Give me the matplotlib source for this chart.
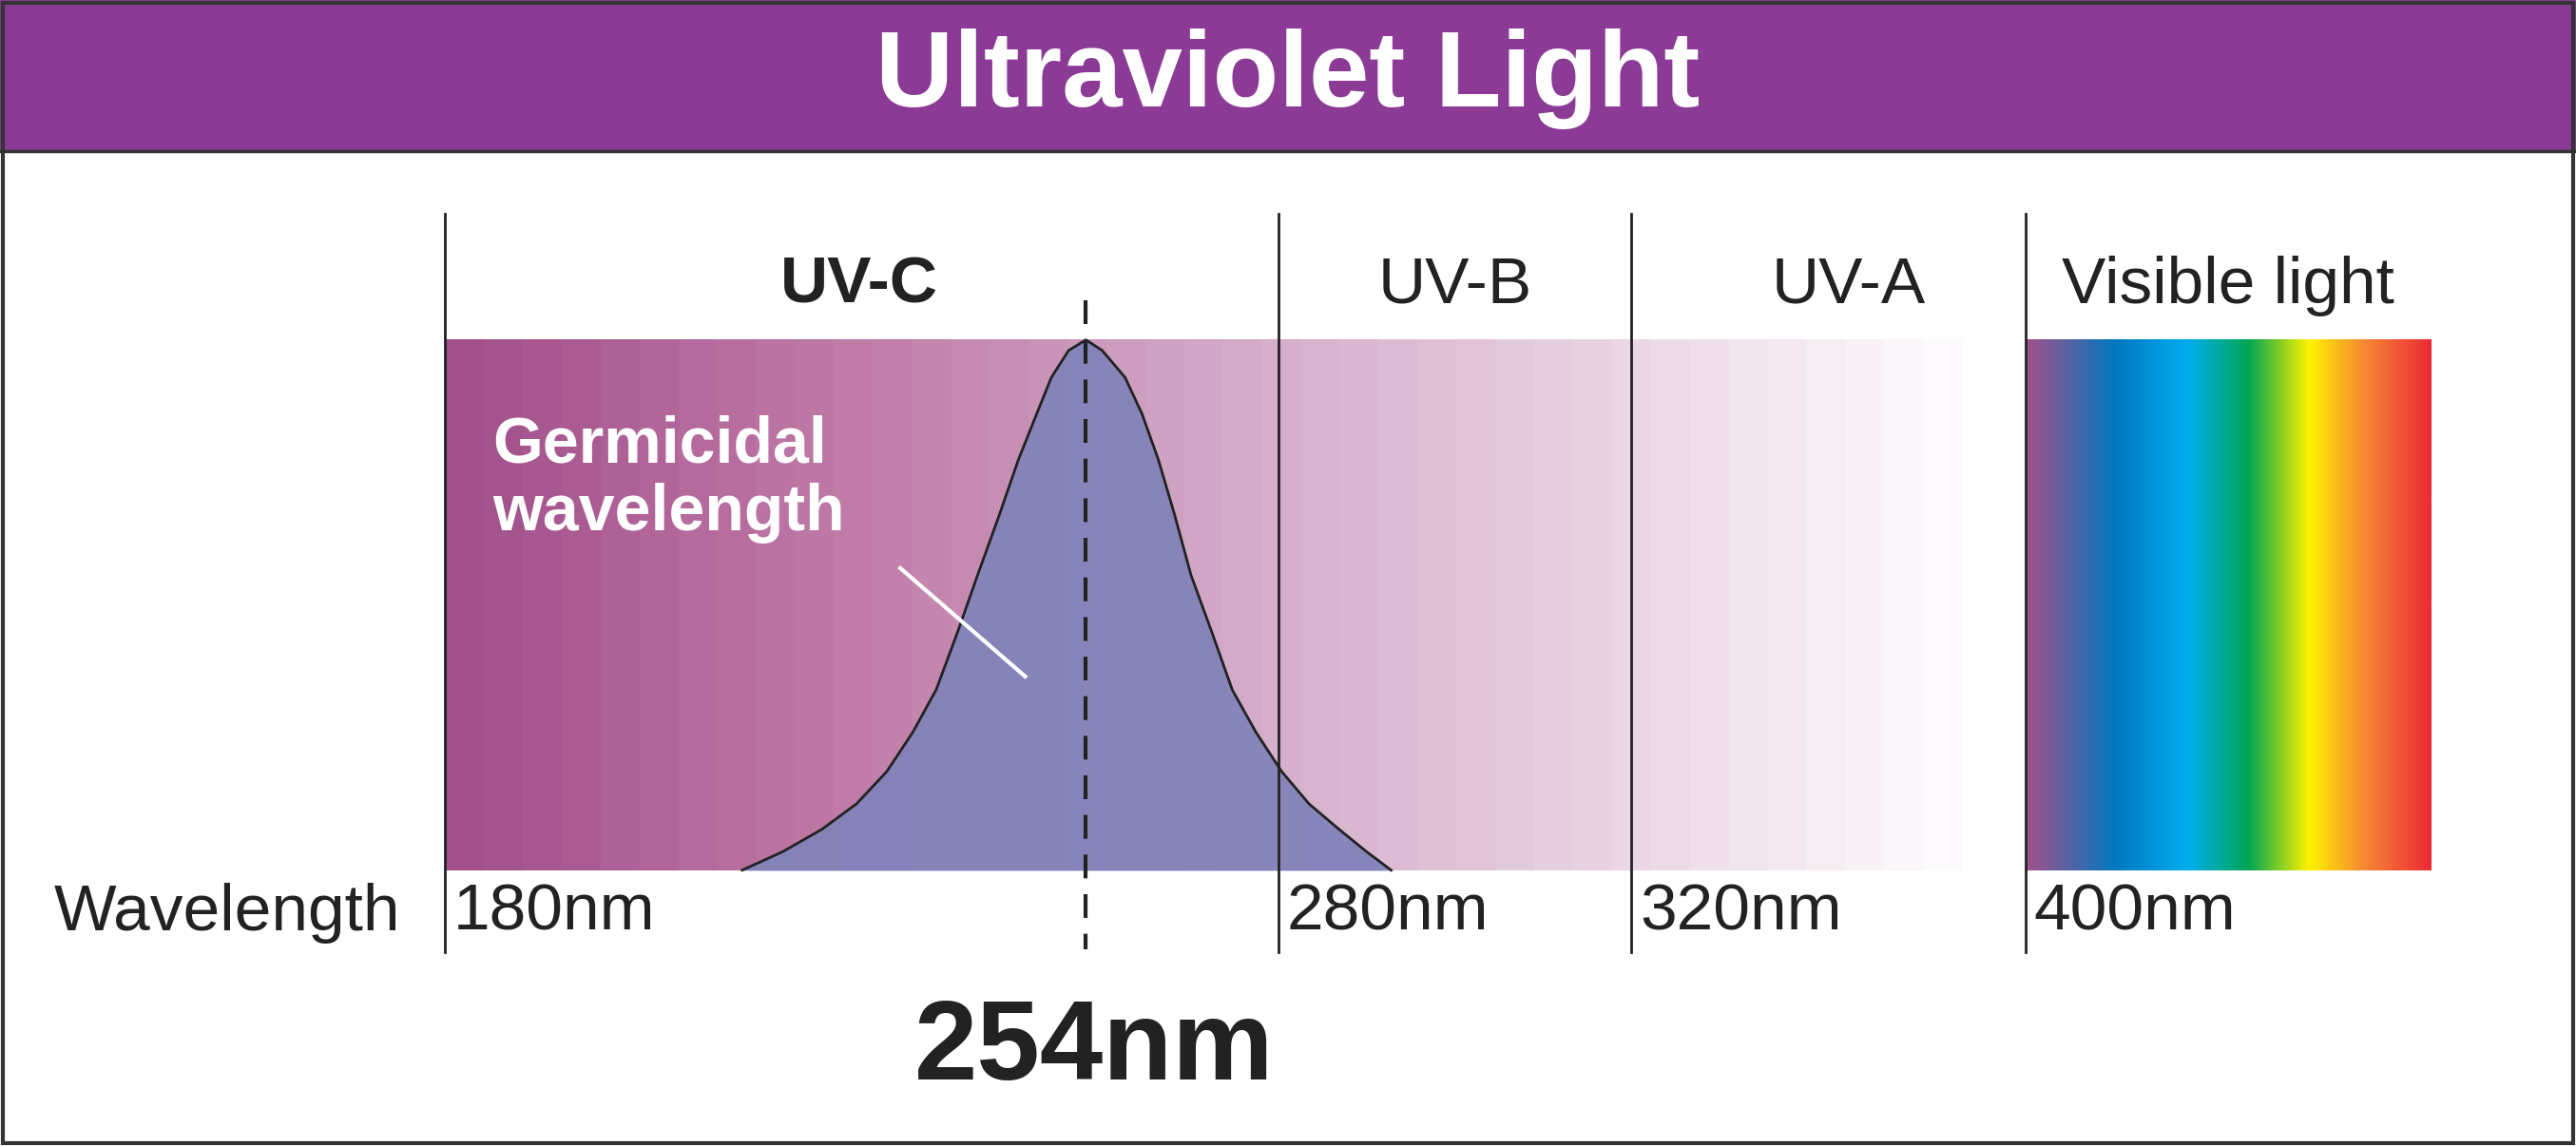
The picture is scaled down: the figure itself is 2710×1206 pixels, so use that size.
import numpy as np
import matplotlib
matplotlib.use("Agg")
import matplotlib.pyplot as plt
from matplotlib.colors import LinearSegmentedColormap

plt.rcParams['font.family'] = ['Liberation Sans', 'DejaVu Sans']

# data
boundaries_nm = [180, 280, 320, 400]
band_names = ["UV-C", "UV-B", "UV-A", "Visible light"]
peak_nm = 254
curve_nm = [214.3, 219, 223.5, 227.5, 231, 234, 236.7, 239.2, 241.5, 244, 246.2, 248.3, 250, 252, 254,
            256.2, 259.3, 261.6, 263.8, 266, 268.2, 271, 273.8, 277, 280.4, 283.5, 286.9, 290, 292.8]
curve_rel = [0.0, 0.035, 0.077, 0.125, 0.186, 0.26, 0.34, 0.45, 0.557, 0.67, 0.774, 0.86, 0.929, 0.98, 1.0,
             0.98, 0.929, 0.86, 0.774, 0.67, 0.557, 0.45, 0.34, 0.26, 0.186, 0.125, 0.077, 0.035, 0.0]
spectrum_colors = ["#A2508A", "#0078C0", "#00AEEF", "#00A651", "#FFF200", "#F58634", "#EC2A35"]
spectrum_stops = [0.0, 0.22, 0.40, 0.55, 0.70, 0.84, 1.0]

# horizontal scale (nm -> drawing units), piecewise linear like the figure
scale_nm = [180, 254, 280, 320, 400]
scale_x = [271, 661, 778, 993, 1233]
def X(nm):
    return np.interp(nm, scale_nm, scale_x)

W, H = 1568, 698
fig = plt.figure(figsize=(27.10, 12.06), dpi=100)
ax = fig.add_axes([0, 0, 1, 1])
ax.set_xlim(0, W)
ax.set_ylim(H, 0)
ax.axis("off")

# frame and title bar
ax.add_patch(plt.Rectangle((0, 0), W, 92, color="#8B3A96", zorder=1))
ax.add_patch(plt.Rectangle((1.5, 1.5), W - 3, H - 3, fill=False, ec="#333333", lw=3, zorder=5))
ax.plot([0, W], [92, 92], color="#333333", lw=2.5, zorder=5)
ax.text(W / 2, 48, "Ultraviolet Light", color="white", fontsize=82, fontweight="bold",
        ha="center", va="center", zorder=6)

band_top, band_bot = 207, 530
# UV gradient band
uv_cmap = LinearSegmentedColormap.from_list("uv", ["#A2508A", "#C07BA8", "#D2A9C8", "#E9D3E3", "#FFFFFF"])
grad = np.linspace(0, 1, 40).reshape(1, -1)
ax.imshow(grad, cmap=uv_cmap, extent=(X(180), 1218, band_bot, band_top), aspect="auto",
          interpolation="nearest", zorder=2)

# visible spectrum
vis_cmap = LinearSegmentedColormap.from_list("vis", list(zip(spectrum_stops, spectrum_colors)))
grad2 = np.linspace(0, 1, 400).reshape(1, -1)
ax.imshow(grad2, cmap=vis_cmap, extent=(X(400), 1480, band_bot, band_top), aspect="auto",
          interpolation="bilinear", zorder=2)

# germicidal curve
cx = X(np.array(curve_nm))
cy = band_bot - np.array(curve_rel) * (band_bot - band_top)
ax.fill(cx, cy, color="#8383BA", alpha=0.95, zorder=3)
ax.plot(cx, cy, color="#222222", lw=2, zorder=4)

# peak dashed line
ax.plot([X(peak_nm)] * 2, [183, 578], color="#222222", lw=3, ls=(0, (6, 4)), zorder=4)

# boundary lines
for nm in boundaries_nm:
    ax.plot([X(nm)] * 2, [130, 580], color="#222222", lw=2, zorder=4)
    ax.text(X(nm) + 5, 556, f"{nm}nm", fontsize=50, color="#222222", ha="left", va="center", zorder=6)

# band names
name_x = [X(180) + 252, (X(280) + X(320)) / 2 + 0, (X(320) + X(400)) / 2 + 12, X(400) + 123]
for i, (name, x) in enumerate(zip(band_names, name_x)):
    ax.text(x, 174, name, fontsize=50, color="#222222", ha="center", va="center",
            fontweight="bold" if i == 0 else "normal", zorder=6)

ax.text(33, 556, "Wavelength", fontsize=50, color="#222222", ha="left", va="center", zorder=6)
ax.text(X(peak_nm) + 5, 640, f"{peak_nm}nm", fontsize=86, fontweight="bold", color="#222222",
        ha="center", va="center", zorder=6)

ax.text(300, 292, "Germicidal\nwavelength", fontsize=49, fontweight="bold", color="white",
        ha="left", va="center", linespacing=1.15, zorder=6)
ax.plot([548, 624], [346, 412], color="white", lw=3, zorder=6)

fig.savefig("out.png", dpi=100)
